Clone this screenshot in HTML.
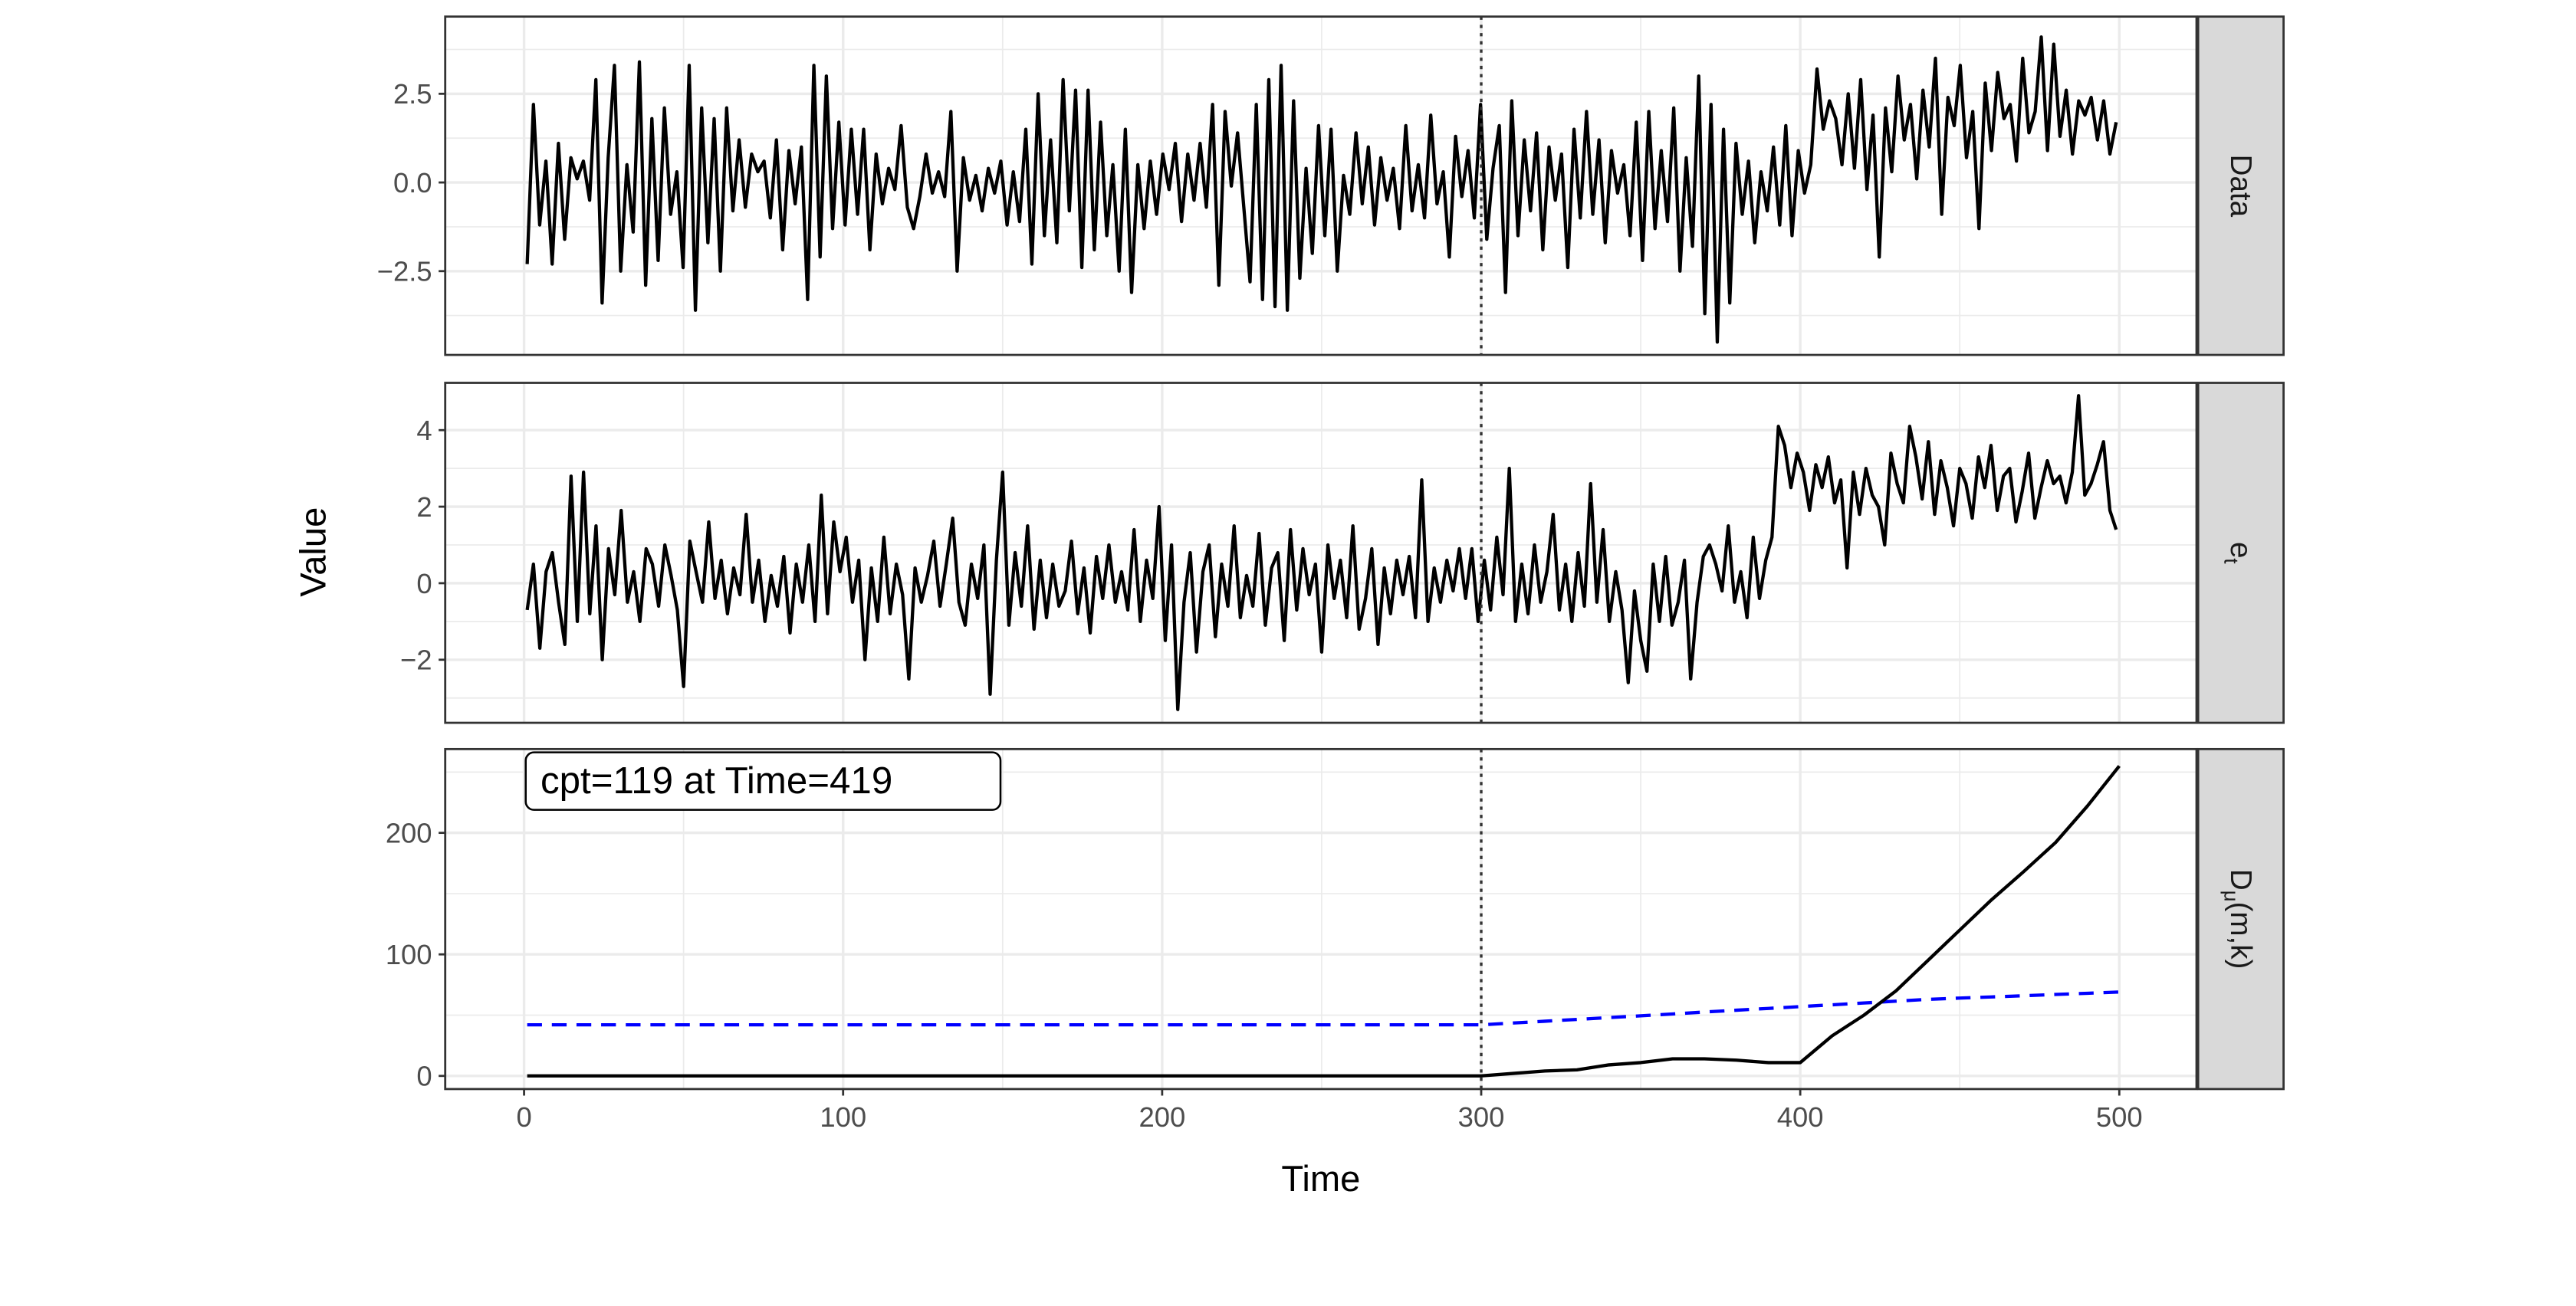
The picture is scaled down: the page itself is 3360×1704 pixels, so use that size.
<!DOCTYPE html>
<html><head><meta charset="utf-8"><style>
html,body{margin:0;padding:0;background:#fff}
svg{display:block}
text{font-family:"Liberation Sans",sans-serif}
</style></head><body>
<svg id="chart" width="3360" height="1704" viewBox="0 0 1568 795" xmlns="http://www.w3.org/2000/svg">
<g id="layer"></g>
</svg>
<script>
const timeTicks = [0,100,200,300,400,500];
const dataTicks = [-2.5,0,2.5];
const etTicks = [-2,0,2,4];
const dTicks = [0,100,200];
const changeTime = 300;
const labelText = "cpt=119 at Time=419";
// Data series, evenly spaced over t = 1..499
const dataVals = [-2.3,2.2,-1.2,0.6,-2.3,1.1,-1.6,0.7,0.1,0.6,-0.5,2.9,-3.4,0.7,3.3,-2.5,0.5,-1.4,3.4,-2.9,1.8,-2.2,2.1,-0.9,0.3,-2.4,3.3,-3.6,2.1,-1.7,1.8,-2.5,2.1,-0.8,1.2,-0.7,0.8,0.3,0.6,-1.0,
1.2,-1.9,0.9,-0.6,1.0,-3.3,3.3,-2.1,3.0,-1.3,1.7,-1.2,1.5,-0.9,1.5,-1.9,0.8,-0.6,0.4,-0.2,1.6,-0.7,-1.3,-0.4,0.8,-0.3,0.3,-0.4,2.0,-2.5,
0.7,-0.5,0.2,-0.8,0.4,-0.3,0.6,-1.2,0.3,-1.1,1.5,-2.3,2.5,-1.5,1.2,-1.7,2.9,-0.8,2.6,-2.4,2.6,-1.9,1.7,-1.5,0.5,-2.5,1.5,-3.1,0.5,-1.3,0.6,-0.9,0.8,-0.2,1.1,-1.1,
0.8,-0.5,1.1,-0.7,2.2,-2.9,2.0,-0.1,1.4,-0.7,-2.8,2.2,-3.3,2.9,-3.5,3.3,-3.6,2.3,-2.7,0.4,-2.0,1.6,-1.5,1.5,-2.5,0.2,-0.9,1.4,-0.6,1.0,
-1.2,0.7,-0.5,0.4,-1.3,1.6,-0.8,0.5,-1.0,1.9,-0.6,0.3,-2.1,1.3,-0.4,0.9,-1.0,2.2,-1.6,0.4,
1.6,-3.1,2.3,-1.5,1.2,-0.8,1.4,-1.9,1.0,-0.5,0.8,-2.4,1.5,-1.0,2.0,-0.9,1.2,-1.7,0.9,-0.3,0.5,-1.5,1.7,-2.2,2.0,-1.3,0.9,-1.1,2.1,-2.5,0.7,-1.8,3.0,-3.7,2.2,-4.5,1.5,-3.4,1.1,-0.9,0.6,-1.7,0.3,-0.8,1.0,-1.2,1.6,-1.5,0.9,-0.3,
0.5,3.2,1.5,2.3,1.8,0.5,2.5,0.4,2.9,-0.2,1.9,-2.1,2.1,0.3,3.0,1.2,2.2,0.1,2.6,1.0,3.5,-0.9,2.4,1.6,3.3,0.7,2.0,-1.3,2.8,0.9,3.1,1.8,2.2,0.6,3.5,1.4,2.0,4.1,0.9,3.9,1.3,2.6,0.8,2.3,1.9,2.4,1.2,2.3,0.8,1.7];
// e_t series, evenly spaced over t = 1..499
const etVals = [-0.7,0.5,-1.7,0.3,0.8,-0.5,-1.6,2.8,-1.0,2.9,-0.8,1.5,-2.0,0.9,-0.3,1.9,-0.5,0.3,-1.0,0.9,0.5,-0.6,1.0,0.2,-0.7,-2.7,1.1,0.3,-0.5,1.6,-0.4,0.6,-0.8,0.4,-0.3,1.8,-0.5,0.6,-1.0,0.2,
-0.6,0.7,-1.3,0.5,-0.5,1.0,-1.0,2.3,-0.8,1.6,0.3,1.2,-0.5,0.6,-2.0,0.4,-1.0,1.2,-0.8,0.5,-0.3,-2.5,0.4,-0.5,0.2,1.1,-0.6,0.5,1.7,-0.5,
-1.1,0.5,-0.4,1.0,-2.9,0.6,2.9,-1.1,0.8,-0.6,1.5,-1.2,0.6,-0.9,0.5,-0.6,-0.2,1.1,-0.8,0.4,-1.3,0.7,-0.4,1.0,-0.5,0.3,-0.7,1.4,-1.0,0.6,
-0.4,2.0,-1.5,1.0,-3.3,-0.5,0.8,-1.8,0.3,1.0,-1.4,0.5,-0.6,1.5,-0.9,0.2,-0.6,1.3,-1.1,0.4,0.8,-1.5,1.4,-0.7,0.9,-0.3,0.5,-1.8,1.0,-0.4,
0.6,-0.9,1.5,-1.2,-0.4,0.9,-1.6,0.4,-0.8,0.6,-0.3,0.7,-0.9,2.7,-1.0,0.4,-0.5,0.6,-0.2,0.9,
-0.4,0.9,-1.0,0.6,-0.7,1.2,-0.3,3.0,-1.0,0.5,-0.8,1.0,-0.5,0.3,1.8,-0.7,0.5,-1.0,0.8,-0.6,2.6,-0.5,1.4,-1.0,0.3,-0.7,-2.6,-0.2,-1.5,-2.3,0.5,-1.0,0.7,-1.1,-0.5,0.6,-2.5,-0.5,0.7,1.0,0.5,-0.2,1.5,-0.5,0.3,-0.9,1.2,-0.4,0.6,1.2,
4.1,3.6,2.5,3.4,2.9,1.9,3.1,2.5,3.3,2.1,2.7,0.4,2.9,1.8,3.0,2.3,2.0,1.0,3.4,2.6,2.1,4.1,3.3,2.2,3.7,1.8,3.2,2.5,1.5,3.0,2.6,1.7,3.3,2.5,3.6,1.9,2.8,3.0,1.6,2.4,3.4,1.7,2.5,3.2,2.6,2.8,2.1,2.9,4.9,2.3,2.6,3.1,3.7,1.9,1.4];
// statistic and threshold, t = 0,10,...,500
const dVals = [0,0,0,0,0,0,0,0,0,0,0,0,0,0,0,0,0,0,0,0,0,0,0,0,0,0,0,0,0,0,0,2,4,5,9,11,14,14,13,11,11,33,50,70,95,120,145,168,192,222,255];
const thrVals = [42,42,42,42,42,42,42,42,42,42,42,42,42,42,42,42,42,42,42,42,42,42,42,42,42,42,42,42,42,42,42,43.5,45,46.5,48,49.5,51,52.5,54,55.5,57,58.5,60,61.5,63,64,65,66,67,68,69];

const NS = "http://www.w3.org/2000/svg";
const layer = document.getElementById('layer');
function mk(tag, attrs, parent){const e=document.createElementNS(NS,tag);for(const k in attrs)e.setAttribute(k,attrs[k]);(parent||layer).appendChild(e);return e;}
const PX0=271, PX1=1337;
const xs = t => 319 + t*(1290-319)/500;
const panels = [
 {y0:10,y1:216, p0:111, per:-21.6, ticks:dataTicks, minor:[-3.75,-1.25,1.25,3.75], fmt:v=>v.toFixed(1).replace('-','\u2212'), name:'data'},
 {y0:233,y1:440, p0:355, per:-23.3, ticks:etTicks, minor:[-3,-1,1,3], fmt:v=>String(v).replace('-','\u2212'), name:'et'},
 {y0:456,y1:663, p0:655, per:-0.74, ticks:dTicks, minor:[50,150,250], fmt:v=>String(v), name:'dstat'}
];
panels.forEach((p,i)=>{
  const ys = v => p.p0 + v*p.per;
  const g = mk('g',{});
  
  
  mk('rect',{x:PX0,y:p.y0,width:PX1-PX0,height:p.y1-p.y0,fill:'#fff'},g);
  const grid = mk('g',{},g);
  
  
  [50,150,250,350,450].forEach(t=>mk('line',{x1:xs(t),x2:xs(t),y1:p.y0,y2:p.y1,stroke:'#ebebeb','stroke-width':0.8},grid));
  p.minor.forEach(v=>{const y=ys(v); if(y>p.y0&&y<p.y1) mk('line',{x1:PX0,x2:PX1,y1:y,y2:y,stroke:'#ebebeb','stroke-width':0.8},grid);});
  timeTicks.forEach(t=>mk('line',{x1:xs(t),x2:xs(t),y1:p.y0,y2:p.y1,stroke:'#ebebeb','stroke-width':1.6},grid));
  p.ticks.forEach(v=>{const y=ys(v);
    mk('line',{x1:PX0,x2:PX1,y1:y,y2:y,stroke:'#ebebeb','stroke-width':1.6},grid);
    mk('line',{x1:PX0-4,x2:PX0,y1:y,y2:y,stroke:'#333','stroke-width':1.3},g);
    const tl=mk('text',{x:PX0-8,y:y+6,'text-anchor':'end','font-size':17,fill:'#4d4d4d'},g);
    tl.textContent=p.fmt(v);
    
    
  });
  if(i<2){
    const vals = i===0?dataVals:etVals;
    const n = vals.length;
    const d = vals.map((v,k)=>(k?'L':'M')+xs(1+k*498/(n-1)).toFixed(1)+','+ys(v).toFixed(1)).join('');
    const path=mk('path',{d:d,fill:'none',stroke:'#000','stroke-width':2,'stroke-linejoin':'round'},g);
    
    
  } else {
    const dd = dVals.map((v,k)=>(k?'L':'M')+xs(Math.max(1,10*k)).toFixed(1)+','+ys(v).toFixed(1)).join('');
    const td = thrVals.map((v,k)=>(k?'L':'M')+xs(Math.max(1,10*k)).toFixed(1)+','+ys(v).toFixed(1)).join('');
    const th=mk('path',{d:td,fill:'none',stroke:'#0000ff','stroke-width':2,'stroke-dasharray':'9,6'},g);
    
    
    const dl=mk('path',{d:dd,fill:'none',stroke:'#000','stroke-width':2,'stroke-linejoin':'round'},g);
    
    
  }
  const vl=mk('line',{x1:xs(changeTime),x2:xs(changeTime),y1:p.y0,y2:p.y1,stroke:'#333','stroke-width':1.6,'stroke-dasharray':'2,3'},g);
  
  
  mk('rect',{x:PX0,y:p.y0,width:PX1-PX0,height:p.y1-p.y0,fill:'none',stroke:'#333','stroke-width':1.3},g);
  const sg=mk('g',{},g);
  
  
  mk('rect',{x:PX1+1,y:p.y0,width:52,height:p.y1-p.y0,fill:'#d9d9d9',stroke:'#333','stroke-width':1.3},sg);
  const cy=(p.y0+p.y1)/2, cx=PX1+27;
  const st=mk('text',{x:0,y:0,'text-anchor':'middle','font-size':18,fill:'#1a1a1a',transform:`translate(${cx-6},${cy}) rotate(90)`},sg);
  if(i===0){ st.textContent='Data'; }
  else if(i===1){ st.innerHTML='e<tspan font-size="12" dy="4">t</tspan>'; }
  else { st.innerHTML='D<tspan font-size="12" dy="4">\u03bc</tspan><tspan dy="-4">(m,k)</tspan>'; }
});
timeTicks.forEach(t=>{
  mk('line',{x1:xs(t),x2:xs(t),y1:663,y2:667,stroke:'#333','stroke-width':1.3});
  const tl=mk('text',{x:xs(t),y:686,'text-anchor':'middle','font-size':17,fill:'#4d4d4d'});
  tl.textContent=String(t);
  
  
});
const xt=mk('text',{x:804,y:725,'text-anchor':'middle','font-size':22,fill:'#000'});
xt.textContent='Time';


const yt=mk('text',{x:0,y:0,'text-anchor':'middle','font-size':22,fill:'#000',transform:'translate(198,336) rotate(-90)'});
yt.textContent='Value';


const lg=mk('g',{});


mk('rect',{x:320,y:458,width:289,height:35,rx:5,fill:'#fff',stroke:'#000','stroke-width':1.2},lg);
const lt=mk('text',{x:329,y:483,'font-size':23,fill:'#000'},lg);
lt.textContent=labelText;
</script>
</body></html>
